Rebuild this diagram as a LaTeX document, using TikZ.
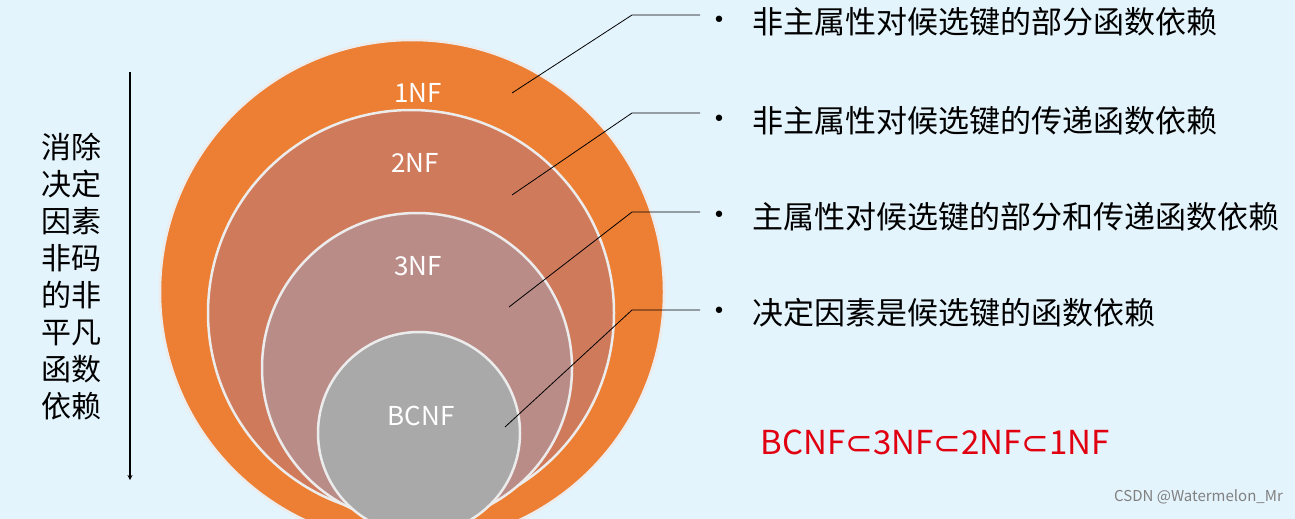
\documentclass[tikz,border=0pt]{standalone}
\usepackage{fontspec}
\setmainfont{Noto Sans CJK SC}
\newfontfamily\dv{DejaVu Sans}
\definecolor{bg}{HTML}{E4F4FC}
\definecolor{c1}{HTML}{EC7F33}
\definecolor{c2}{HTML}{D07A5C}
\definecolor{c3}{HTML}{BA8C88}
\definecolor{c4}{HTML}{A9A9A9}
\definecolor{redt}{HTML}{E00010}
\begin{document}
\begin{tikzpicture}[x=1pt,y=-1pt,
  ring/.style={draw=white!85!gray,line width=2.5pt},
  lab/.style={text=white,font=\fontsize{26}{28}\selectfont},
  ptr/.style={draw=black,line width=0.8pt},
  item/.style={anchor=west,font=\fontsize{31}{34}\selectfont,inner sep=0pt},
  dot/.style={anchor=center,font=\dv\fontsize{22}{24}\selectfont,inner sep=0pt}]
\useasboundingbox (0,0) rectangle (1295,519);
\fill[bg] (0,0) rectangle (1295,519);
\begin{scope}
\clip (0,0) rectangle (1295,519);
\fill[c1,ring] (412,292) circle (252);
\fill[c2,ring] (411,313) circle (203);
\fill[c3,ring] (417,368) circle (155);
\fill[c4,ring] (419,433) circle (101);
\end{scope}
\node[lab] (n1) at (418,93) {1NF};
\node[lab] (n2) at (415,163) {2NF};
\node[lab] (n3) at (418,266) {3NF};
\node[lab] (n4) at (421,416) {BCNF};
\coordinate (p1) at (512,93);
\coordinate (p2) at (512,195);
\coordinate (p3) at (509,307);
\coordinate (p4) at (505,427);
\coordinate (k1) at (632,15); \coordinate (e1) at (700,15);
\coordinate (k2) at (632,113); \coordinate (e2) at (700,113);
\coordinate (k3) at (632,212); \coordinate (e3) at (700,212);
\coordinate (k4) at (632,310); \coordinate (e4) at (700,310);
\draw[ptr] (p1) -- (k1) -- (e1);
\draw[ptr] (p2) -- (k2) -- (e2);
\draw[ptr] (p3) -- (k3) -- (e3);
\draw[ptr] (p4) -- (k4) -- (e4);
\node[dot] (b1) at (719,22) {•};
\node[dot] (b2) at (719,121) {•};
\node[dot] (b3) at (719,217) {•};
\node[dot] (b4) at (719,313) {•};
\node[item] (t1) at (752,22) {非主属性对候选键的部分函数依赖};
\node[item] (t2) at (752,121) {非主属性对候选键的传递函数依赖};
\node[item] (t3) at (752,217) {主属性对候选键的部分和传递函数依赖};
\node[item] (t4) at (752,313) {决定因素是候选键的函数依赖};
\coordinate (a0) at (130,72); \coordinate (a1) at (130,480);
\draw[line width=1.2pt,-stealth] (a0) -- (a1);
\node[align=center,font=\fontsize{30}{37}\selectfont,inner sep=0pt] (vt) at (71,277)
 {消除\\决定\\因素\\非码\\的非\\平凡\\函数\\依赖};
\node[text=redt,font=\fontsize{33}{36}\selectfont,inner sep=0pt] (rt) at (935,442)
 {BCNF{\dv ⊂}3NF{\dv ⊂}2NF{\dv ⊂}1NF};
\node[text=gray,font=\fontsize{15}{17}\selectfont,inner sep=0pt,anchor=east] (wm) at (1283,497) {CSDN @Watermelon\_Mr};
\end{tikzpicture}
\end{document}
